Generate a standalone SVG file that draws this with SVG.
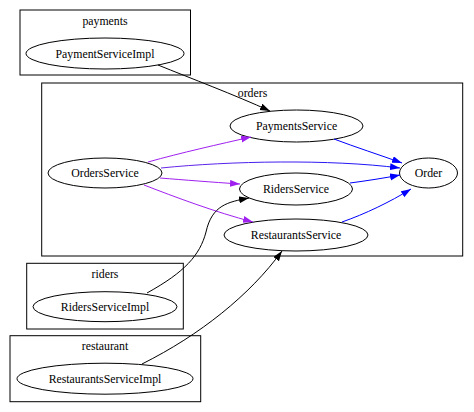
<svg xmlns="http://www.w3.org/2000/svg" width="474" height="412" viewBox="0 0 474 412">
<style>
text{font-family:"Liberation Serif","Times New Roman",serif;font-size:11.8px;fill:#000;text-anchor:middle}
.cl{fill:none;stroke:#000;stroke-width:1}
.nd{fill:none;stroke:#000;stroke-width:1}
.e{fill:none;stroke-width:1}
.k{stroke:#000}
.p{stroke:#a020f0}
.b{stroke:#0000ff}
</style>
<defs>
<marker id="ak" markerUnits="userSpaceOnUse" markerWidth="10" markerHeight="8" refX="10" refY="3.5" orient="auto"><path d="M0,0 L10,3.5 L0,7 z" fill="#000"/></marker>
<marker id="ap" markerUnits="userSpaceOnUse" markerWidth="10" markerHeight="8" refX="10" refY="3.5" orient="auto"><path d="M0,0 L10,3.5 L0,7 z" fill="#a020f0"/></marker>
<marker id="ab" markerUnits="userSpaceOnUse" markerWidth="10" markerHeight="8" refX="10" refY="3.5" orient="auto"><path d="M0,0 L10,3.5 L0,7 z" fill="#0000ff"/></marker>
<linearGradient id="pb" gradientUnits="userSpaceOnUse" x1="161" y1="165" x2="400" y2="165"><stop offset="0" stop-color="#6a28e6"/><stop offset="1" stop-color="#1010fa"/></linearGradient>
</defs>
<g id="cluster_payments"><rect class="cl" x="20" y="10" width="170.5" height="65"/><text x="105" y="25">payments</text></g>
<g id="cluster_orders"><rect class="cl" x="41.7" y="83" width="421" height="173"/><text x="252.5" y="97">orders</text></g>
<g id="cluster_riders"><rect class="cl" x="26.7" y="263.3" width="156.6" height="65.7"/><text x="105" y="278">riders</text></g>
<g id="cluster_restaurant"><rect class="cl" x="10" y="335.7" width="190.7" height="66"/><text x="105" y="350">restaurant</text></g>
<g id="PaymentServiceImpl"><ellipse class="nd" cx="105" cy="53.5" rx="79" ry="15.5"/><text x="105" y="57.5">PaymentServiceImpl</text></g>
<g id="PaymentsService"><ellipse class="nd" cx="296.5" cy="126" rx="66.5" ry="16"/><text x="296.5" y="130">PaymentsService</text></g>
<g id="Order"><ellipse class="nd" cx="428.5" cy="173" rx="29" ry="15"/><text x="428.5" y="177">Order</text></g>
<g id="OrdersService"><ellipse class="nd" cx="105" cy="173" rx="57" ry="15"/><text x="105" y="177">OrdersService</text></g>
<g id="RidersService"><ellipse class="nd" cx="296" cy="189" rx="56.5" ry="16"/><text x="296" y="193">RidersService</text></g>
<g id="RestaurantsService"><ellipse class="nd" cx="296" cy="235" rx="72" ry="16"/><text x="296" y="239">RestaurantsService</text></g>
<g id="RidersServiceImpl"><ellipse class="nd" cx="105" cy="306.7" rx="72" ry="15"/><text x="105" y="310.7">RidersServiceImpl</text></g>
<g id="RestaurantsServiceImpl"><ellipse class="nd" cx="105" cy="378.7" rx="88" ry="15.5"/><text x="105" y="382.7">RestaurantsServiceImpl</text></g>
<g id="edges">
<path class="e k" d="M158,65 C190,78 235,95 270,111" marker-end="url(#ak)"/>
<path class="e p" d="M148,162 C180,153 220,144 251,137" marker-end="url(#ap)"/>
<path class="e" stroke="url(#pb)" d="M161,168 C230,161 330,159 400,168" marker-end="url(#ab)"/>
<path class="e p" d="M160,178 C185,180 210,182 240,184" marker-end="url(#ap)"/>
<path class="e p" d="M144,185 C175,197 215,212 253,222" marker-end="url(#ap)"/>
<path class="e b" d="M334,139 C355,147 380,155 402,163" marker-end="url(#ab)"/>
<path class="e b" d="M350,183 C365,181 385,178 400,175" marker-end="url(#ab)"/>
<path class="e b" d="M342,222 C365,214 390,202 411,189" marker-end="url(#ab)"/>
<path class="e k" d="M147,293 C185,272 200,255 206,232 C212,205 228,202 249,198" marker-end="url(#ak)"/>
<path class="e k" d="M142,364 C200,335 250,295 282,251" marker-end="url(#ak)"/>
</g>
</svg>
